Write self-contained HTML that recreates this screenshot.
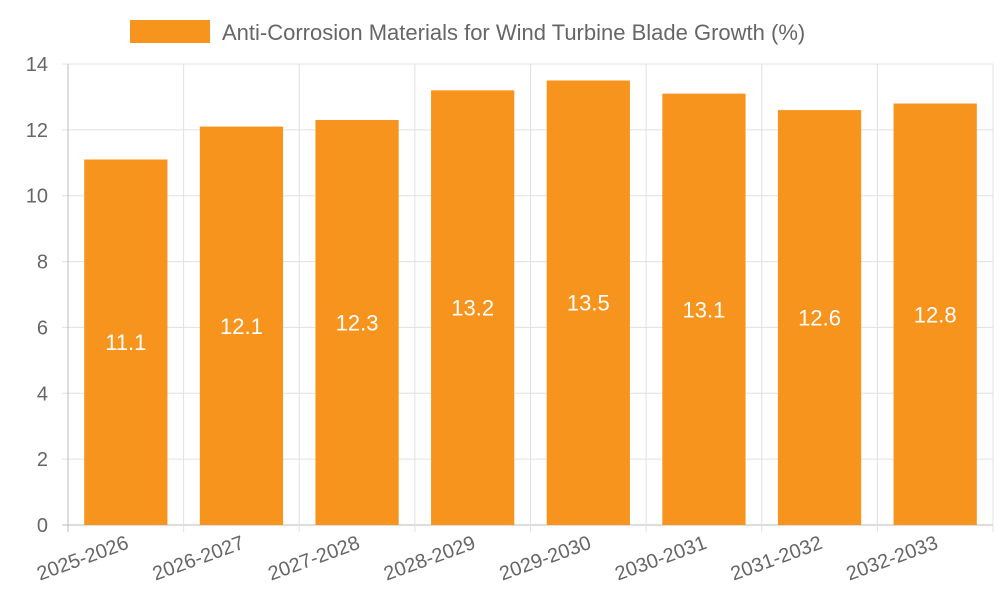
<!DOCTYPE html>
<html><head><meta charset="utf-8"><style>
body{margin:0;background:#fff;}
text{font-family:"Liberation Sans",sans-serif;}
</style></head><body>
<svg id="chart" width="1000" height="600">
<g>
<rect x="130" y="20" width="80" height="23" fill="#f7941d"/>
<text x="222" y="40" font-size="22" fill="#666">Anti-Corrosion Materials for Wind Turbine Blade Growth (%)</text>
</g>
<g id="grid"></g>
<g id="bars"></g>
<g id="axes"></g>
</svg>
<script>
const categories=["2025-2026","2026-2027","2027-2028","2028-2029","2029-2030","2030-2031","2031-2032","2032-2033"];
const values=[11.1,12.1,12.3,13.2,13.5,13.1,12.6,12.8];
const yTicks=[0,2,4,6,8,10,12,14];
const X0=68,X1=993,Y0=525,Y1=64,YMAX=14;
const NS="http://www.w3.org/2000/svg";
const bw=(X1-X0)/categories.length;
const y=v=>Y0-(v/YMAX)*(Y0-Y1);
const xb=i=>X0+i*bw;
function mk(t,a,p){const e=document.createElementNS(NS,t);for(const k in a)e.setAttribute(k,a[k]);p.appendChild(e);return e;}
const grid=document.getElementById('grid'),bars=document.getElementById('bars'),axes=document.getElementById('axes');
yTicks.forEach(t=>{
 const l=mk('line',{x1:X0-6,x2:X1,y1:y(t),y2:y(t),stroke:t===0?'#bbb':'#e0e0e0','stroke-width':1},grid);
 
 
 const tx=mk('text',{x:48,y:y(t)+7,'text-anchor':'end','font-size':20,fill:'#666'},axes);
 tx.textContent=t;
 
 
});
for(let i=0;i<=categories.length;i++){
 const l=mk('line',{x1:xb(i),x2:xb(i),y1:Y1,y2:Y0+7,stroke:i===0?'#bbb':'#e0e0e0','stroke-width':1},grid);
 
 
}
categories.forEach((c,i)=>{
 const w=bw*0.72,cx=xb(i)+bw/2;
 const r=mk('rect',{x:cx-w/2,y:y(values[i]),width:w,height:Y0-y(values[i]),fill:'#f7941d'},bars);
 
 
 const v=mk('text',{x:cx,y:(y(values[i])+Y0)/2+8,'text-anchor':'middle','font-size':22,fill:'#fff'},bars);
 v.textContent=values[i];
 
 
 const t=mk('text',{x:cx+4,y:548,'text-anchor':'end','font-size':20,fill:'#666',transform:`rotate(-20 ${cx+4} 548)`},axes);
 t.textContent=c;
 
 
});
</script>
</body></html>
